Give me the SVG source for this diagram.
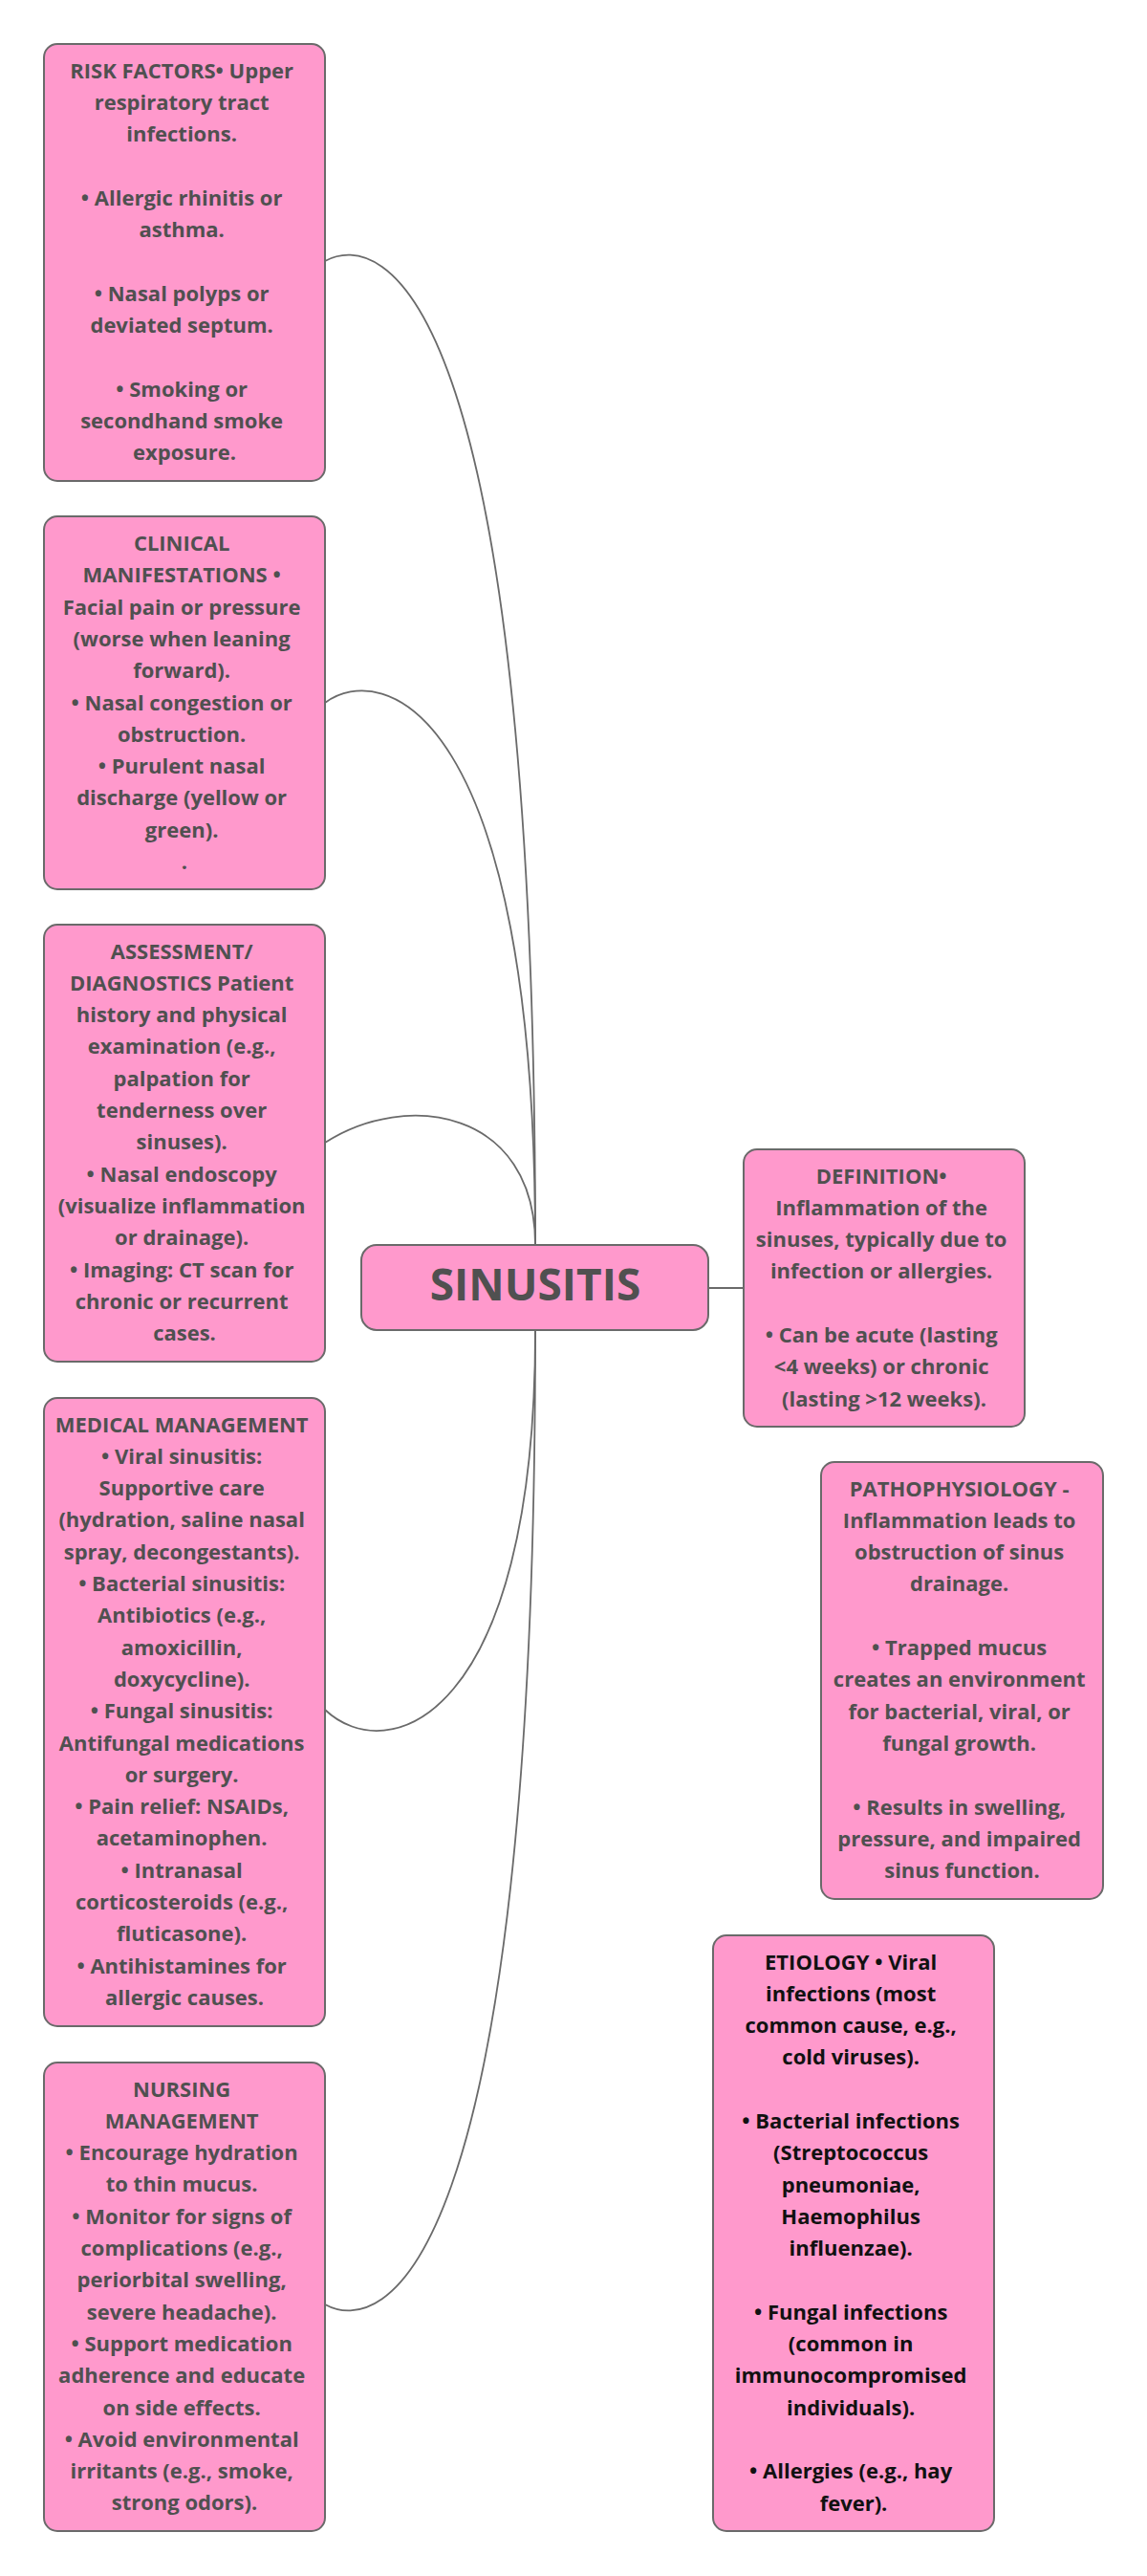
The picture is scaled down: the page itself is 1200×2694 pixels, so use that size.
<svg xmlns="http://www.w3.org/2000/svg" width="1200" height="2694" viewBox="0 0 1200 2694">
<style>
.box{fill:#ff99cc;stroke:#6a6a6a;stroke-width:2}
.t{font-family:"Open Sans","Noto Sans","DejaVu Sans",sans-serif;font-weight:700;font-size:22px;fill:#505050;text-anchor:middle}
.blk{fill:#111111}
.title{font-family:"Open Sans","Noto Sans","DejaVu Sans",sans-serif;font-weight:700;font-size:46px;fill:#505050;text-anchor:middle}
.c{fill:none;stroke:#6a6a6a;stroke-width:1.8}
</style>
<rect width="1200" height="2694" fill="#ffffff"/>
<g id="connectors">
<path class="c" d="M340,273 C400,240 560,300 560,1302"/>
<path class="c" d="M340,735 C400,690 560,740 560,1302"/>
<path class="c" d="M340,1195 C425,1140 560,1160 560,1302"/>
<path class="c" d="M340,1788 C405,1850 560,1800 560,1392"/>
<path class="c" d="M340,2410 C400,2443 560,2383 560,1392"/>
<path class="c" d="M741,1347 L778,1347"/>
</g>
<g id="risk-factors">
<rect class="box" x="46" y="46" width="294" height="457" rx="14"/>
<text class="t">
<tspan x="193" y="81.5">RISK FACTORS• Upper</tspan>
<tspan x="193" y="114.8">respiratory tract</tspan>
<tspan x="193" y="148.1">infections.</tspan>
<tspan x="193" y="214.7">• Allergic rhinitis or</tspan>
<tspan x="193" y="248">asthma.</tspan>
<tspan x="193" y="314.6">• Nasal polyps or</tspan>
<tspan x="193" y="347.9">deviated septum.</tspan>
<tspan x="193" y="414.5">• Smoking or</tspan>
<tspan x="193" y="447.8">secondhand smoke</tspan>
<tspan x="193" y="481.1">exposure.</tspan>
</text>
</g>
<g id="clinical-manifestations">
<rect class="box" x="46" y="540" width="294" height="390" rx="14"/>
<text class="t">
<tspan x="193" y="576">CLINICAL</tspan>
<tspan x="193" y="609.3">MANIFESTATIONS •</tspan>
<tspan x="193" y="642.6">Facial pain or pressure</tspan>
<tspan x="193" y="675.9">(worse when leaning</tspan>
<tspan x="193" y="709.2">forward).</tspan>
<tspan x="193" y="742.5">• Nasal congestion or</tspan>
<tspan x="193" y="775.8">obstruction.</tspan>
<tspan x="193" y="809.1">• Purulent nasal</tspan>
<tspan x="193" y="842.4">discharge (yellow or</tspan>
<tspan x="193" y="875.7">green).</tspan>
<tspan x="193" y="909">.</tspan>
</text>
</g>
<g id="assessment-diagnostics">
<rect class="box" x="46" y="967" width="294" height="457" rx="14"/>
<text class="t">
<tspan x="193" y="1002.5">ASSESSMENT/</tspan>
<tspan x="193" y="1035.8">DIAGNOSTICS Patient</tspan>
<tspan x="193" y="1069.1">history and physical</tspan>
<tspan x="193" y="1102.4">examination (e.g.,</tspan>
<tspan x="193" y="1135.7">palpation for</tspan>
<tspan x="193" y="1169">tenderness over</tspan>
<tspan x="193" y="1202.3">sinuses).</tspan>
<tspan x="193" y="1235.6">• Nasal endoscopy</tspan>
<tspan x="193" y="1268.9">(visualize inflammation</tspan>
<tspan x="193" y="1302.2">or drainage).</tspan>
<tspan x="193" y="1335.5">• Imaging: CT scan for</tspan>
<tspan x="193" y="1368.8">chronic or recurrent</tspan>
<tspan x="193" y="1402.1">cases.</tspan>
</text>
</g>
<g id="medical-management">
<rect class="box" x="46" y="1462" width="294" height="657" rx="14"/>
<text class="t">
<tspan x="193" y="1497.5">MEDICAL MANAGEMENT</tspan>
<tspan x="193" y="1530.8">• Viral sinusitis:</tspan>
<tspan x="193" y="1564.1">Supportive care</tspan>
<tspan x="193" y="1597.4">(hydration, saline nasal</tspan>
<tspan x="193" y="1630.7">spray, decongestants).</tspan>
<tspan x="193" y="1664">• Bacterial sinusitis:</tspan>
<tspan x="193" y="1697.3">Antibiotics (e.g.,</tspan>
<tspan x="193" y="1730.6">amoxicillin,</tspan>
<tspan x="193" y="1763.9">doxycycline).</tspan>
<tspan x="193" y="1797.2">• Fungal sinusitis:</tspan>
<tspan x="193" y="1830.5">Antifungal medications</tspan>
<tspan x="193" y="1863.8">or surgery.</tspan>
<tspan x="193" y="1897.1">• Pain relief: NSAIDs,</tspan>
<tspan x="193" y="1930.4">acetaminophen.</tspan>
<tspan x="193" y="1963.7">• Intranasal</tspan>
<tspan x="193" y="1997">corticosteroids (e.g.,</tspan>
<tspan x="193" y="2030.3">fluticasone).</tspan>
<tspan x="193" y="2063.6">• Antihistamines for</tspan>
<tspan x="193" y="2096.9">allergic causes.</tspan>
</text>
</g>
<g id="nursing-management">
<rect class="box" x="46" y="2157" width="294" height="490" rx="14"/>
<text class="t">
<tspan x="193" y="2192.5">NURSING</tspan>
<tspan x="193" y="2225.8">MANAGEMENT</tspan>
<tspan x="193" y="2259.1">• Encourage hydration</tspan>
<tspan x="193" y="2292.4">to thin mucus.</tspan>
<tspan x="193" y="2325.7">• Monitor for signs of</tspan>
<tspan x="193" y="2359">complications (e.g.,</tspan>
<tspan x="193" y="2392.3">periorbital swelling,</tspan>
<tspan x="193" y="2425.6">severe headache).</tspan>
<tspan x="193" y="2458.9">• Support medication</tspan>
<tspan x="193" y="2492.2">adherence and educate</tspan>
<tspan x="193" y="2525.5">on side effects.</tspan>
<tspan x="193" y="2558.8">• Avoid environmental</tspan>
<tspan x="193" y="2592.1">irritants (e.g., smoke,</tspan>
<tspan x="193" y="2625.4">strong odors).</tspan>
</text>
</g>
<g id="sinusitis">
<rect class="box" x="378" y="1302" width="363" height="89" rx="16"/>
<text class="title" x="560" y="1360">SINUSITIS</text>
</g>
<g id="definition">
<rect class="box" x="778" y="1202" width="294" height="290" rx="14"/>
<text class="t">
<tspan x="925" y="1237.5">DEFINITION•</tspan>
<tspan x="925" y="1270.8">Inflammation of the</tspan>
<tspan x="925" y="1304.1">sinuses, typically due to</tspan>
<tspan x="925" y="1337.4">infection or allergies.</tspan>
<tspan x="925" y="1404">• Can be acute (lasting</tspan>
<tspan x="925" y="1437.3">&lt;4 weeks) or chronic</tspan>
<tspan x="925" y="1470.6">(lasting &gt;12 weeks).</tspan>
</text>
</g>
<g id="pathophysiology">
<rect class="box" x="859" y="1529" width="295" height="457" rx="14"/>
<text class="t">
<tspan x="1006.5" y="1564.5">PATHOPHYSIOLOGY -</tspan>
<tspan x="1006.5" y="1597.8">Inflammation leads to</tspan>
<tspan x="1006.5" y="1631.1">obstruction of sinus</tspan>
<tspan x="1006.5" y="1664.4">drainage.</tspan>
<tspan x="1006.5" y="1731">• Trapped mucus</tspan>
<tspan x="1006.5" y="1764.3">creates an environment</tspan>
<tspan x="1006.5" y="1797.6">for bacterial, viral, or</tspan>
<tspan x="1006.5" y="1830.9">fungal growth.</tspan>
<tspan x="1006.5" y="1897.5">• Results in swelling,</tspan>
<tspan x="1006.5" y="1930.8">pressure, and impaired</tspan>
<tspan x="1006.5" y="1964.1">sinus function.</tspan>
</text>
</g>
<g id="etiology">
<rect class="box" x="746" y="2024" width="294" height="623" rx="14"/>
<text class="t blk">
<tspan x="893" y="2059.5">ETIOLOGY • Viral</tspan>
<tspan x="893" y="2092.8">infections (most</tspan>
<tspan x="893" y="2126.1">common cause, e.g.,</tspan>
<tspan x="893" y="2159.4">cold viruses).</tspan>
<tspan x="893" y="2226">• Bacterial infections</tspan>
<tspan x="893" y="2259.3">(Streptococcus</tspan>
<tspan x="893" y="2292.6">pneumoniae,</tspan>
<tspan x="893" y="2325.9">Haemophilus</tspan>
<tspan x="893" y="2359.2">influenzae).</tspan>
<tspan x="893" y="2425.8">• Fungal infections</tspan>
<tspan x="893" y="2459.1">(common in</tspan>
<tspan x="893" y="2492.4">immunocompromised</tspan>
<tspan x="893" y="2525.7">individuals).</tspan>
<tspan x="893" y="2592.3">• Allergies (e.g., hay</tspan>
<tspan x="893" y="2625.6">fever).</tspan>
</text>
</g>
</svg>
